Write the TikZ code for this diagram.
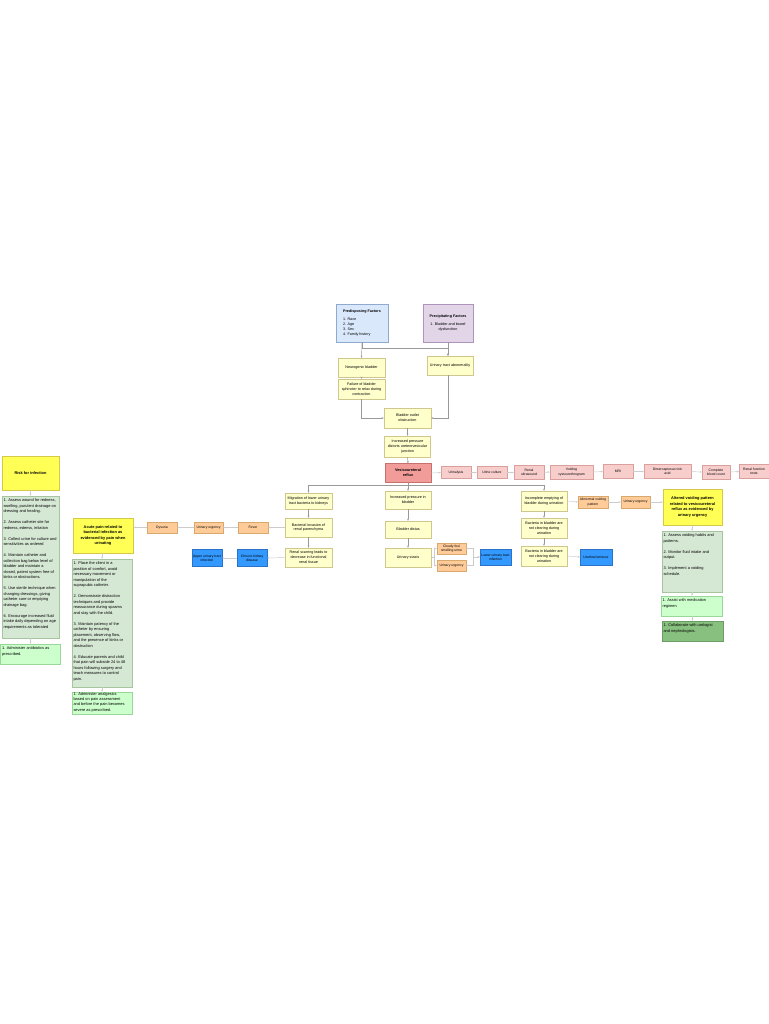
\documentclass[tikz,border=0pt]{standalone}
\usepackage{fontspec}
\setmainfont{Liberation Sans}
\usetikzlibrary{arrows.meta,calc}
\definecolor{lyel}{HTML}{FFFFCC}\definecolor{lyelb}{HTML}{CFC78E}
\definecolor{pkf}{HTML}{F8CECC}\definecolor{pkd}{HTML}{D9A09E}
\definecolor{rdf}{HTML}{F19C99}\definecolor{rdd}{HTML}{C8706D}
\definecolor{orf}{HTML}{FFCC99}\definecolor{ord}{HTML}{D9A86C}
\definecolor{blf}{HTML}{3399FF}\definecolor{bld}{HTML}{2A72C8}
\definecolor{dxf}{HTML}{FFFF55}\definecolor{dxd}{HTML}{D6C94A}
\definecolor{grf}{HTML}{D5E8D4}\definecolor{grd}{HTML}{A6C49E}
\definecolor{lgf}{HTML}{CCFFCC}\definecolor{lgd}{HTML}{9AD69A}
\definecolor{dgf}{HTML}{88C17F}\definecolor{dgd}{HTML}{6C9E63}
\definecolor{lbf}{HTML}{DAE8FC}\definecolor{lbd}{HTML}{8FA9D0}
\definecolor{puf}{HTML}{E1D5E7}\definecolor{pud}{HTML}{AE94BB}
\newcommand\B[7]{\node[#1,minimum width=#5pt,minimum height=#6pt] (#2) at (#3,#4) {#7};}
\newcommand\LB[7]{\node[#1,minimum width=#5pt,minimum height=#6pt] (#2) at (#3,#4) {};
  \node[listfont,align=left,anchor=north west,inner sep=0pt] (#2t) at ([xshift=1.5pt,yshift=-3pt]#2.north west) {#7};}
\begin{document}
\begin{tikzpicture}[x=1pt,y=-1pt,
  base/.style={line width=0.4pt,inner sep=0.5pt,align=center},
  boxfont/.style={font=\fontsize{3.7}{4.9}\selectfont},
  smallfont/.style={font=\fontsize{3.4}{4.3}\selectfont},
  listfont/.style={font=\fontsize{3.95}{5.5}\selectfont},
  boldfont/.style={font=\fontsize{3.9}{5.6}\selectfont\bfseries},
  yb/.style={base,boxfont,fill=lyel,draw=lyelb},
  pk/.style={base,smallfont,fill=pkf,draw=pkd},
  rd/.style={base,boxfont,font=\fontsize{3.8}{5}\selectfont\bfseries,fill=rdf,draw=rdd},
  ob/.style={base,smallfont,fill=orf,draw=ord},
  bb/.style={base,smallfont,fill=blf,draw=bld},
  dx/.style={base,boldfont,fill=dxf,draw=dxd},
  gb/.style={base,fill=grf,draw=grd},
  lgb/.style={base,fill=lgf,draw=lgd},
  dgb/.style={base,fill=dgf,draw=dgd},
  conn/.style={draw=black!40,line width=0.45pt,-{Stealth[length=2.2pt,width=1.8pt]}},
  lconn/.style={draw=black!20,line width=0.45pt,-{Stealth[length=2.2pt,width=1.8pt]}}]
\useasboundingbox[fill=white] (0,0) rectangle (768,1024);
% factors
\node[base,boxfont,fill=lbf,draw=lbd,minimum width=52pt,minimum height=38pt,align=left] (pred) at (362,323)
  {\textbf{Predisposing Factors}\\[3pt]1. Race\\2. Age\\3. Sex\\4. Family history};
\node[base,boxfont,fill=puf,draw=pud,minimum width=50pt,minimum height=38pt] (prec) at (448,323)
  {\textbf{Precipitating Factors}\\[3pt]1. Bladder and bowel\\dysfunction};
% main chain
\B{yb}{neuro}{361.5}{367.5}{47}{19}{Neurogenic bladder}
\B{yb}{fail}{361.5}{389}{47}{20}{Failure of bladder\\sphincter to relax during\\contraction}
\B{yb}{uta}{450}{365.5}{46}{19}{Urinary tract abnormality}
\B{yb}{bod}{407.5}{418}{47}{20}{Bladder outlet\\obstruction}
\B{yb}{inc}{407.5}{446.5}{46}{21}{Increased pressure\\distorts ureterovesicular\\junction}
\B{rd}{vur}{408}{473}{46}{19}{Vesicoureteral\\reflux}
% diagnostics
\B{pk}{ua}{456}{472.5}{30}{12}{Urinalysis}
\B{pk}{uc}{492}{472.5}{30}{12}{Urine culture}
\B{pk}{rus}{529}{472.5}{30}{14}{Renal\\ultrasound}
\B{pk}{vcug}{571.5}{472}{43}{14}{Voiding\\cystourethrogram}
\B{pk}{mri}{618}{471.5}{30}{14}{MRI}
\B{pk}{dmsa}{667.5}{471.5}{47}{14}{Dimercaptosuccinic\\acid}
\B{pk}{cbc}{716}{472}{28}{14}{Complete\\blood count}
\B{pk}{rft}{754}{471.5}{30}{14}{Renal function\\tests}
% level 2-4
\B{yb}{mig}{308.5}{501}{47}{16}{Migration of lower urinary\\tract bacteria to kidneys}
\B{yb}{ipb}{408}{500}{46}{18}{Increased pressure in\\bladder}
\B{yb}{ince}{544}{501}{46}{20}{Incomplete emptying of\\bladder during urination}
\B{yb}{bir}{308.5}{527.5}{47}{19}{Bacterial invasion of\\renal parenchyma}
\B{yb}{bd}{408}{529.5}{46}{17}{Bladder distus}
\B{yb}{bnca}{544}{528}{46}{20}{Bacteria in bladder are\\not clearing during\\urination}
\B{yb}{rs}{308.5}{557.5}{47}{19}{Renal scarring leads to\\decrease in functional\\renal tissue}
\B{yb}{us}{408}{557.5}{46}{19}{Urinary stasis}
\B{yb}{bncb}{544}{556}{46}{20}{Bacteria in bladder are\\not clearing during\\urination}
% left chains
\B{ob}{fev}{253}{527.5}{30}{11}{Fever}
\B{ob}{uua}{208.5}{527.5}{29}{11}{Urinary urgency}
\B{ob}{dys}{162}{527.5}{30}{11}{Dysuria}
\B{bb}{ckd}{252}{558}{30}{17}{Chronic kidney\\disease}
\B{bb}{uuti}{207}{558}{30}{17}{Upper urinary tract\\infection}
% middle chains
\B{ob}{cfs}{451.5}{548.5}{29}{11}{Cloudy foul\\smelling urine}
\B{ob}{uuc}{451.5}{565.5}{29}{11}{Urinary urgency}
\B{bb}{luti}{495.5}{557}{31}{16}{Lower urinary tract\\infection}
\B{bb}{ustr}{596}{557}{32}{16}{Urethral stricture}
% right chain
\B{ob}{abn}{593}{502}{30}{12}{Abnormal voiding\\pattern}
\B{ob}{uub}{635.5}{502}{29}{12}{Urinary urgency}
% nursing diagnoses
\B{dx}{risk}{30.5}{473}{57}{34}{Risk for infection}
\B{dx}{acute}{103}{535.5}{60}{35}{Acute pain related to\\bacterial infection as\\evidenced by pain when\\urinating}
\B{dx}{avp}{692.5}{507}{59}{36}{Altered voiding pattern\\related to vesicoureteral\\reflux as evidenced by\\urinary urgency}
% interventions
\LB{gb}{rg}{30.5}{567}{57}{142}{1. Assess wound for redness,\\swelling, purulent drainage on\\dressing and healing.\\[5.5pt]2. Assess catheter site for\\redness, edema, irritation\\[5.5pt]3. Collect urine for culture and\\sensitivities as ordered\\[5.5pt]4. Maintain catheter and\\collection bag below level of\\bladder and maintain a\\closed, patent system free of\\kinks or obstructions.\\[5.5pt]5. Use sterile technique when\\changing dressings, giving\\catheter care or emptying\\drainage bag.\\[5.5pt]6. Encourage increased fluid\\intake daily depending on age\\requirements as tolerated}
\LB{lgb}{rlg}{30.5}{654}{60}{20}{1. Administer antibiotics as\\prescribed.}
\LB{gb}{ag}{102}{623}{60}{128}{1. Place the client in a\\position of comfort, avoid\\necessary movement or\\manipulation of the\\suprapubic catheter.\\[5.5pt]2. Demonstrate distraction\\techniques and provide\\reassurance during spasms\\and stay with the child.\\[5.5pt]3. Maintain patency of the\\catheter by ensuring\\placement, observing flow,\\and the presence of kinks or\\obstruction\\[5.5pt]4. Educate parents and child\\that pain will subside 24 to 48\\hours following surgery and\\teach measures to control\\pain.}
\node[base,lgb,minimum width=60pt,minimum height=22pt] (alg) at (102,703) {};
\node[font=\fontsize{3.95}{5.3}\selectfont,align=left,anchor=north west,inner sep=0pt] (algt) at ([xshift=1.5pt,yshift=-0.5pt]alg.north west) {1. Administer analgesics\\based on pain assessment\\and before the pain becomes\\severe as prescribed.};
\LB{gb}{vg}{692}{561.5}{60}{61}{1. Assess voiding habits and\\patterns.\\[5.5pt]2. Monitor fluid intake and\\output.\\[5.5pt]3. Implement a voiding\\schedule.}
\LB{lgb}{vlg}{691.5}{606}{61}{20}{1. Assist with medication\\regimen}
\LB{dgb}{vdg}{692.5}{631}{61}{20}{1. Collaborate with urologist\\and nephrologists.}
% connectors: top tree
\draw[conn] (pred.south) -- (neuro.north);
\draw[conn] (pred.south) -- ++(0,6) -| (uta.north -| prec.south);
\draw[conn] (prec.south) -- (uta.north -| prec.south);
\draw[conn] (neuro.south) -- (fail.north);
\draw[conn] (fail.south) |- (bod.west);
\draw[conn] (uta.south -| prec.south) |- (bod.east);
\draw[conn] (bod.south) -- (inc.north);
\draw[conn] (inc.south) -- (vur.north);
% diagnostics chain
\draw[lconn] (vur.east) -- (ua.west);
\draw[lconn] (ua.east) -- (uc.west);
\draw[lconn] (uc.east) -- (rus.west);
\draw[lconn] (rus.east) -- (vcug.west);
\draw[lconn] (vcug.east) -- (mri.west);
\draw[lconn] (mri.east) -- (dmsa.west);
\draw[lconn] (dmsa.east) -- (cbc.west);
\draw[lconn] (cbc.east) -- (rft.west);
% branches
\draw[conn] (vur.south) -- ++(0,2.5) -| (mig.north);
\draw[conn] (vur.south) -- (ipb.north);
\draw[conn] (vur.south) -- ++(0,2.5) -| (ince.north);
\draw[conn] (mig.south) -- (bir.north);
\draw[conn] (bir.south) -- (rs.north);
\draw[conn] (ipb.south) -- (bd.north);
\draw[conn] (bd.south) -- (us.north);
\draw[conn] (ince.south) -- (bnca.north);
\draw[conn] (bnca.south) -- (bncb.north);
% side chains
\draw[lconn] (bir.west) -- (fev.east);
\draw[lconn] (fev.west) -- (uua.east);
\draw[lconn] (uua.west) -- (dys.east);
\draw[lconn] (dys.west) -- (dys.west -| acute.east);
\draw[lconn] (rs.west) -- (ckd.east);
\draw[lconn] (ckd.west) -- (uuti.east);
\draw[lconn] (us.east) -- ++(3,0) |- (cfs.west);
\draw[lconn] (us.east) -- ++(3,0) |- (uuc.west);
\draw[lconn] (cfs.east) -- ++(7,0) |- (luti.west);
\draw[lconn] (uuc.east) -- ++(7,0) |- (luti.west);
\draw[lconn] (bncb.east) -- (ustr.west);
\draw[lconn] (ince.east) -- (abn.west);
\draw[lconn] (abn.east) -- (uub.west);
\draw[lconn] (uub.east) -- (uub.east -| avp.west);
% diagnosis to interventions
\draw[lconn] (risk.south) -- (rg.north);
\draw[lconn] (rg.south) -- (rlg.north -| rg.south);
\draw[lconn] (acute.south -| ag.north) -- (ag.north);
\draw[lconn] (ag.south) -- (alg.north);
\draw[lconn] (avp.south -| vg.north) -- (vg.north);
\draw[lconn] (vg.south) -- (vlg.north -| vg.south);
\draw[lconn] (vlg.south -| vdg.north) -- (vdg.north);
\end{tikzpicture}
\end{document}
